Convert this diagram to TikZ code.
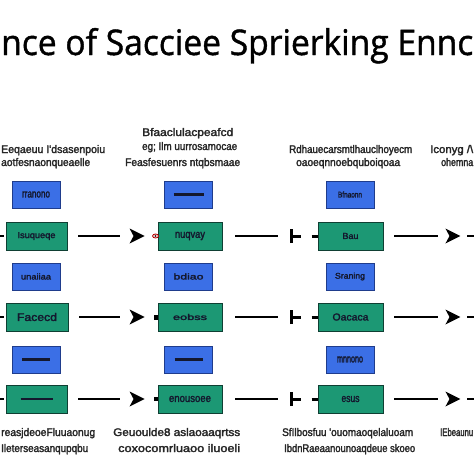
\documentclass[tikz,border=0pt]{standalone}
\usepackage{fontspec}
\usepackage{graphicx}
\setmainfont{Liberation Sans}
\newfontfamily\titlefont[FakeBold=1.2]{Open Sans}
\newfontfamily\labfont[FakeStretch=0.8,FakeBold=2]{Liberation Sans}
\usetikzlibrary{calc}
\definecolor{bxblue}{HTML}{3B6FE6}
\definecolor{bxblueedge}{HTML}{1F3C8C}
\definecolor{bxgreen}{HTML}{1C9874}
\definecolor{bxgreenedge}{HTML}{0F3F33}
\definecolor{labgray}{HTML}{262626}
\definecolor{inkdark}{HTML}{14182E}
\newcommand\lbl[2]{\resizebox{#1}{8pt}{\labfont #2}}
\newcommand\inlbl[2]{\resizebox{#1}{6pt}{\labfont #2}}
\newcommand\chevat[1]{\fill #1 ++(-15,-7.5) -- #1 -- ++(-15,7.5) -- ++(4,-7.5) -- cycle;}
\begin{document}
\begin{tikzpicture}[x=1pt,y=-1pt,
  bluebox/.style={draw=bxblueedge, fill=bxblue, line width=0.8pt, minimum width=48pt, minimum height=27pt, inner sep=0pt, text=inkdark},
  greenbox/.style={draw=bxgreenedge, fill=bxgreen, line width=0.9pt, minimum height=28pt, inner sep=0pt, text=inkdark},
  lab/.style={anchor=base west, inner sep=0pt, text=labgray},
  conn/.style={line width=2.4pt, black},
  tbar/.style={line width=3pt, black}]
\fill[white] (0,0) rectangle (474,474);
\useasboundingbox (0,0) rectangle (474,474);
% title
\node[anchor=base west, inner sep=0pt] (title) at (1,55) {\resizebox{472pt}{27pt}{\titlefont nce of Sacciee Sprierking Ennc}};
% top labels
\node[lab] (t1a) at (1,153) {\lbl{104pt}{Eeqaeuu I'dsasenpoiu}};
\node[lab] (t1b) at (1,166) {\lbl{89pt}{aotfesnaonqueaelle}};
\node[lab] (t2a) at (142,136) {\lbl{91pt}{Bfaaclulacpeafcd}};
\node[lab] (t2b) at (142,150) {\lbl{95pt}{eg; Ilm uurrosamocae}};
\node[lab] (t2c) at (125,166) {\lbl{115pt}{Feasfesuenrs ntqbsmaae}};
\node[lab] (t3a) at (289,153) {\lbl{123pt}{Rdhauecarsmtlhauclhoyecm}};
\node[lab] (t3b) at (296,166) {\lbl{104pt}{oaoeqnnoebquboiqoaa}};
\node[lab] (t4a) at (430,153) {\lbl{43pt}{Iconyg /\textbackslash}};
\node[lab] (t4b) at (441,166) {\lbl{32pt}{ohemna}};
% bottom labels
\node[lab] (b1a) at (1,436) {\lbl{94pt}{reasjdeoeFluuaonug}};
\node[lab] (b1b) at (1,452) {\lbl{87pt}{Ileterseasanqupqbu}};
\node[lab] (b2a) at (113,436) {\lbl{127pt}{Geuoulde8 aslaoaaqrtss}};
\node[lab] (b2b) at (118,452) {\lbl{122pt}{coxocomrluaoo iluoeli}};
\node[lab] (b3a) at (282,436) {\lbl{131pt}{SfIlbosfuu 'ouomaoqelaluoam}};
\node[lab] (b3b) at (284,452) {\lbl{131pt}{IbdnRaeaanounoaqdeue skoeo}};
\node[lab] (b4a) at (440,436) {\lbl{33pt}{IEbeaunu}};
% row 1
\node[bluebox] (u11) at (36,194.5) {\inlbl{28pt}{rranono}};
\node[bluebox] (u12) at (188.5,194.5) {\textcolor{inkdark}{\rule{30pt}{3pt}}};
\node[bluebox] (u13) at (350,194.5) {\inlbl{24pt}{Bfnaonn}};
\node[greenbox, minimum width=61pt] (g11) at (36.5,236) {\inlbl{38pt}{Isuqueqe}};
\node[greenbox, minimum width=64pt] (g12) at (190,236) {\inlbl{30pt}{nuqvay}};
\node[greenbox, minimum width=65pt] (g13) at (350.5,236) {\inlbl{16pt}{Bau}};
% row 2
\node[bluebox] (u21) at (36,276.5) {\inlbl{30pt}{unaiiaa}};
\node[bluebox] (u22) at (188.5,276.5) {\inlbl{30pt}{bdiao}};
\node[bluebox] (u23) at (350,276.5) {\inlbl{30pt}{Sraning}};
\node[greenbox, minimum width=62pt] (g21) at (37,317) {\resizebox{40pt}{8pt}{\labfont Facecd}};
\node[greenbox, minimum width=64pt] (g22) at (190,317) {\inlbl{34pt}{eobss}};
\node[greenbox, minimum width=65pt] (g23) at (350.5,317) {\resizebox{36pt}{7pt}{\labfont Oacaca}};
% row 3
\node[bluebox] (u31) at (36,359.5) {\textcolor{inkdark}{\rule{28pt}{2.5pt}}};
\node[bluebox] (u32) at (188.5,359.5) {\textcolor{inkdark}{\rule{28pt}{3pt}}};
\node[bluebox] (u33) at (350,359.5) {\inlbl{26pt}{mnnono}};
\node[greenbox, minimum width=61pt] (g31) at (36.5,399) {\textcolor{inkdark}{\rule{32pt}{2pt}}};
\node[greenbox, minimum width=64pt] (g32) at (190,399) {\inlbl{42pt}{enousoee}};
\node[greenbox, minimum width=65pt] (g33) at (350.5,399) {\inlbl{18pt}{esus}};
% connectors
\foreach \r in {1,2,3}{
  \draw[conn] ([xshift=-6pt]g\r1.west) coordinate (ls\r) -- ([xshift=-2pt]g\r1.west);
  \draw[conn] ([xshift=11pt]g\r1.east) -- ([xshift=-38pt]g\r2.west);
  \coordinate (ca\r) at ([xshift=-13pt]g\r2.west);
  \chevat{(ca\r)}
  \draw[conn] ([xshift=13pt]g\r2.east) -- ([xshift=-40pt]g\r3.west);
  \draw[tbar] ([xshift=-26pt,yshift=-7pt]g\r3.west) -- ([xshift=-26pt,yshift=7pt]g\r3.west);
  \draw[tbar] ([xshift=-26pt]g\r3.west) -- ([xshift=-17pt]g\r3.west);
  \draw[tbar] ([xshift=-6pt]g\r3.west) -- (g\r3.west);
  \draw[conn] ([xshift=11pt]g\r3.east) -- ([xshift=55pt]g\r3.east);
  \coordinate (cb\r) at ([xshift=77pt]g\r3.east);
  \chevat{(cb\r)}
  \draw[conn] ([xshift=84pt]g\r3.east) -- ([xshift=92pt]g\r3.east);
}
% marks at col2 inputs
\draw[red!70!black, line width=0.8pt, fill=red!15] ([xshift=-2pt]g12.west) ellipse (3pt and 2pt);
\fill[black] ([xshift=-2pt]g12.west) circle (0.9pt);
\fill[black] ([xshift=-4pt,yshift=-2.5pt]g22.west) rectangle ([xshift=0pt,yshift=2.5pt]g22.west);
\fill[black] ([xshift=-4pt,yshift=-2pt]g32.west) rectangle ([xshift=0pt,yshift=2pt]g32.west);
\end{tikzpicture}
\end{document}
